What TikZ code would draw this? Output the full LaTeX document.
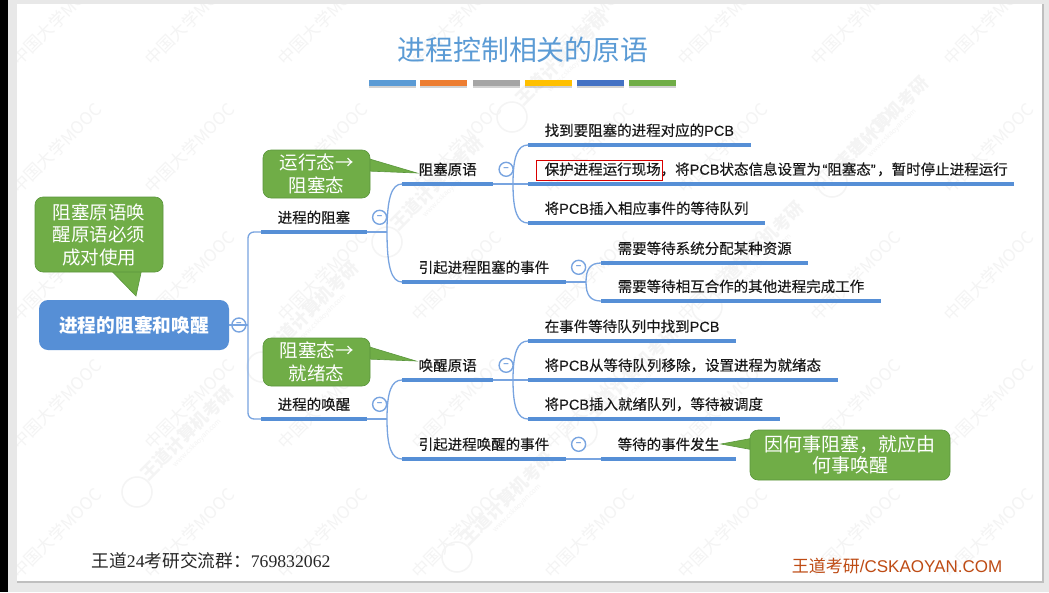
\documentclass[tikz,border=0pt]{standalone}
\usepackage{fontspec}
\setmainfont{Noto Sans CJK SC}
\newfontfamily\topicfont[FakeBold=0.25]{Noto Sans CJK SC}
\newfontfamily\serifdigits{Liberation Serif}
\newfontfamily\sansdigits{Liberation Sans}
\newfontfamily\pcbfont[FakeBold=0.25]{Liberation Sans}
\usetikzlibrary{positioning, calc, backgrounds, shadows}
\definecolor{mapBlue}{RGB}{86,143,214}
\definecolor{mapLine}{RGB}{120,164,224}
\definecolor{titleBlue}{RGB}{91,155,213}
\definecolor{barOrange}{RGB}{237,125,49}
\definecolor{barGray}{RGB}{165,165,165}
\definecolor{barYellow}{RGB}{255,192,0}
\definecolor{barBlue}{RGB}{68,114,196}
\definecolor{noteGreen}{RGB}{112,173,71}
\definecolor{noteEdge}{RGB}{90,150,60}
\definecolor{slideEdge}{RGB}{232,232,232}
\definecolor{siteOrange}{RGB}{190,75,20}
\definecolor{markGray}{RGB}{244,244,244}
\tikzset{
    topic/.style={inner xsep=16.5pt, inner ysep=0pt, minimum height=29pt, anchor=south west,
                  font=\fontsize{14.5}{16}\selectfont\topicfont, text=black!90,
                  append after command={
                      (\tikzlastnode.south west) edge[underline] (\tikzlastnode.south east)}},
    underline/.style={draw=mapBlue, line width=3.5pt},
    branch/.style={draw=mapLine, line width=1.3pt},
    fold/.style={circle, draw=mapLine, line width=1.4pt, fill=white, minimum size=14pt,
                 inner sep=0pt, text=mapLine, font=\fontsize{9}{9}\selectfont\bfseries},
    rootbox/.style={rounded corners=9pt, fill=mapBlue, text=white, minimum width=190pt,
                    minimum height=50pt, font=\fontsize{18.7}{22}\selectfont\bfseries},
    note/.style={rounded corners=8pt, fill=noteGreen, draw=noteEdge, line width=0.6pt,
                 text=white, align=center, inner sep=0pt,
                 font=\fontsize{18.5}{22.5}\selectfont},
    notetip/.style={fill=noteGreen, draw=noteEdge, line width=0.6pt},
    bar/.style={minimum width=47pt, minimum height=6pt, inner sep=0pt,
                drop shadow={shadow xshift=0pt, shadow yshift=-1.5pt, opacity=0.35}},
    watermark/.style={rotate=45, text=markGray, font=\fontsize{17}{17}\selectfont},
    sitemark/.style={rotate=45, text=markGray, font=\fontsize{17.5}{18}\selectfont\bfseries},
    siteurl/.style={rotate=45, text=markGray, font=\fontsize{7}{8}\selectfont},
}

\begin{document}
\begin{tikzpicture}[x=1pt, y=-1pt]
\useasboundingbox (0,0) rectangle (1049,592);

% ─── Titre ──────────────────────────────────────────────────────────────
\node[text=titleBlue, font=\fontsize{27.9}{30}\selectfont] (title) at (523,50) {进程控制相关的原语};
\foreach \barx/\barcolor [count=\i] in {392.5/titleBlue, 443.5/barOrange, 496.5/barGray,
                                        548.5/barYellow, 600.5/barBlue, 652.5/noteGreen}
    \node[bar, fill=\barcolor] (bar\i) at (\barx,83) {};

% ─── Racine ─────────────────────────────────────────────────────────────
\node[rootbox] (root) at (134,325) {进程的阻塞和唤醒};
\node[fold, right=2pt of root] (rootfold) {−};
\coordinate (rootjoin) at (248,325);

% ─── Niveau 1 ───────────────────────────────────────────────────────────
\node[topic] (block) at (261,232) {进程的阻塞};
\node[topic] (wake) at (261,419) {进程的唤醒};
\node[fold, right=5pt of block] (blockfold) {−};
\node[fold, right=5pt of wake] (wakefold) {−};

% ─── Niveau 2 ───────────────────────────────────────────────────────────
\node[topic] (blockprim) at (402,184) {阻塞原语};
\node[topic] (blockevent) at (402,282) {引起进程阻塞的事件};
\node[topic] (wakeprim) at (402,380) {唤醒原语};
\node[topic] (wakeevent) at (402,459) {引起进程唤醒的事件};
\node[fold, right=5pt of blockprim] (blockprimfold) {−};
\node[fold, right=5pt of blockevent] (blockeventfold) {−};
\node[fold, right=5pt of wakeprim] (wakeprimfold) {−};
\node[fold, right=5pt of wakeevent] (wakeeventfold) {−};

% ─── Niveau 3 ───────────────────────────────────────────────────────────
\node[topic] (findpcb) at (528,145) {找到要阻塞的进程对应的{\pcbfont PCB}};
\node[topic] (savectx) at (528,184) {保护进程运行现场，将{\pcbfont PCB}状态信息设置为\kern1.5pt{\pcbfont “}阻塞态{\pcbfont ”}\kern1.5pt，暂时停止进程运行\hspace*{-10pt}};
\node[topic] (insertwait) at (528,223) {将{\pcbfont PCB}插入相应事件的等待队列};
\node[topic] (needres) at (601,263) {需要等待系统分配某种资源};
\node[topic] (needpeer) at (601,301) {需要等待相互合作的其他进程完成工作};
\node[topic] (findqueue) at (528,341) {在事件等待队列中找到{\pcbfont PCB}};
\node[topic] (movepcb) at (528,380) {将{\pcbfont PCB}从等待队列移除，设置进程为就绪态};
\node[topic] (insertready) at (528,419) {将{\pcbfont PCB}插入就绪队列，等待被调度};
\node[topic] (eventdone) at (601,459) {等待的事件发生};

\node[draw=red!85!black, line width=1pt, minimum width=126pt, minimum height=20pt, inner sep=0pt] (redbox) at (599,170) {};

% ─── Branches ───────────────────────────────────────────────────────────
\draw[branch] (root) -- (rootjoin);
\draw[branch, rounded corners=6pt] (rootjoin) |- (block.south west);
\draw[branch, rounded corners=6pt] (rootjoin) |- (wake.south west);

\coordinate (blockjoin) at (387,232);
\coordinate (wakejoin) at (387,419);
\coordinate (blockprimjoin) at (513,184);
\coordinate (blockeventjoin) at (586,282);
\coordinate (wakeprimjoin) at (513,380);

\draw[branch] (block.south east) -- (blockjoin);
\draw[branch] (wake.south east) -- (wakejoin);
\draw[branch] (blockprim.south east) -- (blockprimjoin);
\draw[branch] (blockevent.south east) -- (blockeventjoin);
\draw[branch] (wakeprim.south east) -- (wakeprimjoin);
\draw[branch] (wakeevent.south east) -- (eventdone.south west);

\foreach \fromjoin/\child in {blockjoin/blockprim, blockjoin/blockevent, wakejoin/wakeprim, wakejoin/wakeevent,
                              blockprimjoin/findpcb, blockprimjoin/savectx, blockprimjoin/insertwait,
                              blockeventjoin/needres, blockeventjoin/needpeer,
                              wakeprimjoin/findqueue, wakeprimjoin/movepcb, wakeprimjoin/insertready}
    \draw[branch] (\fromjoin) .. controls ($(\fromjoin)!.7!(\fromjoin |- \child.south west)$)
                                and ($(\fromjoin |- \child.south west)!.3!(\child.south west)$) .. (\child.south west);

% ─── Bulles ─────────────────────────────────────────────────────────────
\node[note, minimum width=128pt, minimum height=75pt] (pairnote) at (99,234.5) {阻塞原语唤\\醒原语必须\\成对使用};
\node[note, minimum width=107pt, minimum height=48pt] (runnote) at (316.5,174) {运行态→\\阻塞态};
\node[note, minimum width=107pt, minimum height=48pt] (readynote) at (316.5,362) {阻塞态→\\就绪态};
\node[note, minimum width=200pt, minimum height=50pt, font=\fontsize{19}{21}\selectfont] (causenote) at (850,455) {因何事阻塞，就应由\\何事唤醒};

\coordinate (pairtip) at (136,296);
\coordinate (runtip) at (417,173);
\coordinate (readytip) at (416,361);
\coordinate (causetip) at (721,444);

% ─── Fond de page ───────────────────────────────────────────────────────
\begin{scope}[on background layer]
    \fill[slideEdge] (0,0) rectangle (1049,592);
    \fill[black] (0,0) rectangle (8,592);
    \fill[black!25] (17,4) rectangle (1044,583);
    \fill[white] (17,4) rectangle (1042,581);
    \begin{scope}
        \clip (17,4) rectangle (1042,581);
        \foreach \markx [count=\j] in {57,190,323,457,590,723,856,989}
            \foreach \marky [count=\k] in {20,148,276,404,533}
                \node[watermark] (mark\j-\k) at (\markx,\marky) {中国大学MOOC};
        \foreach \markx/\marky [count=\m] in {187/433, 312/308, 437/183, 562/58, 507/498, 632/373, 757/248, 882/123} {
            \node[sitemark] (site\m) at (\markx,\marky) {王道计算机考研};
            \node[siteurl] (url\m) at ($(\markx,\marky)+(10,10)$) {www.cskaoyan.com};
            \node[circle, draw=markGray, line width=1.5pt, minimum size=30pt] (logo\m) at ($(\markx,\marky)+(-50,59)$) {};
        }
    \end{scope}
    \draw[notetip] ($(pairnote.south)+(10,-4)$) -- (pairtip) -- ($(pairnote.south)+(43,-4)$) -- cycle;
    \draw[notetip] ($(runnote.east)+(-4,-16)$) -- (runtip) -- ($(runnote.east)+(-4,-3)$) -- cycle;
    \draw[notetip] ($(readynote.east)+(-4,-16)$) -- (readytip) -- ($(readynote.east)+(-4,-3)$) -- cycle;
    \draw[notetip] ($(causenote.west)+(4,-17)$) -- (causetip) -- ($(causenote.west)+(4,-5)$) -- cycle;
\end{scope}

% ─── Pied de page ───────────────────────────────────────────────────────
\node[font=\fontsize{17.7}{20}\selectfont, text=black!85] (group) at (211,561) {王道{\serifdigits 24}考研交流群：{\serifdigits 769832062}};
\node[font=\fontsize{17}{20}\selectfont\sansdigits, text=siteOrange] (site) at (897,566) {{\rmfamily 王道考研}/CSKAOYAN.COM};

\end{tikzpicture}
\end{document}
